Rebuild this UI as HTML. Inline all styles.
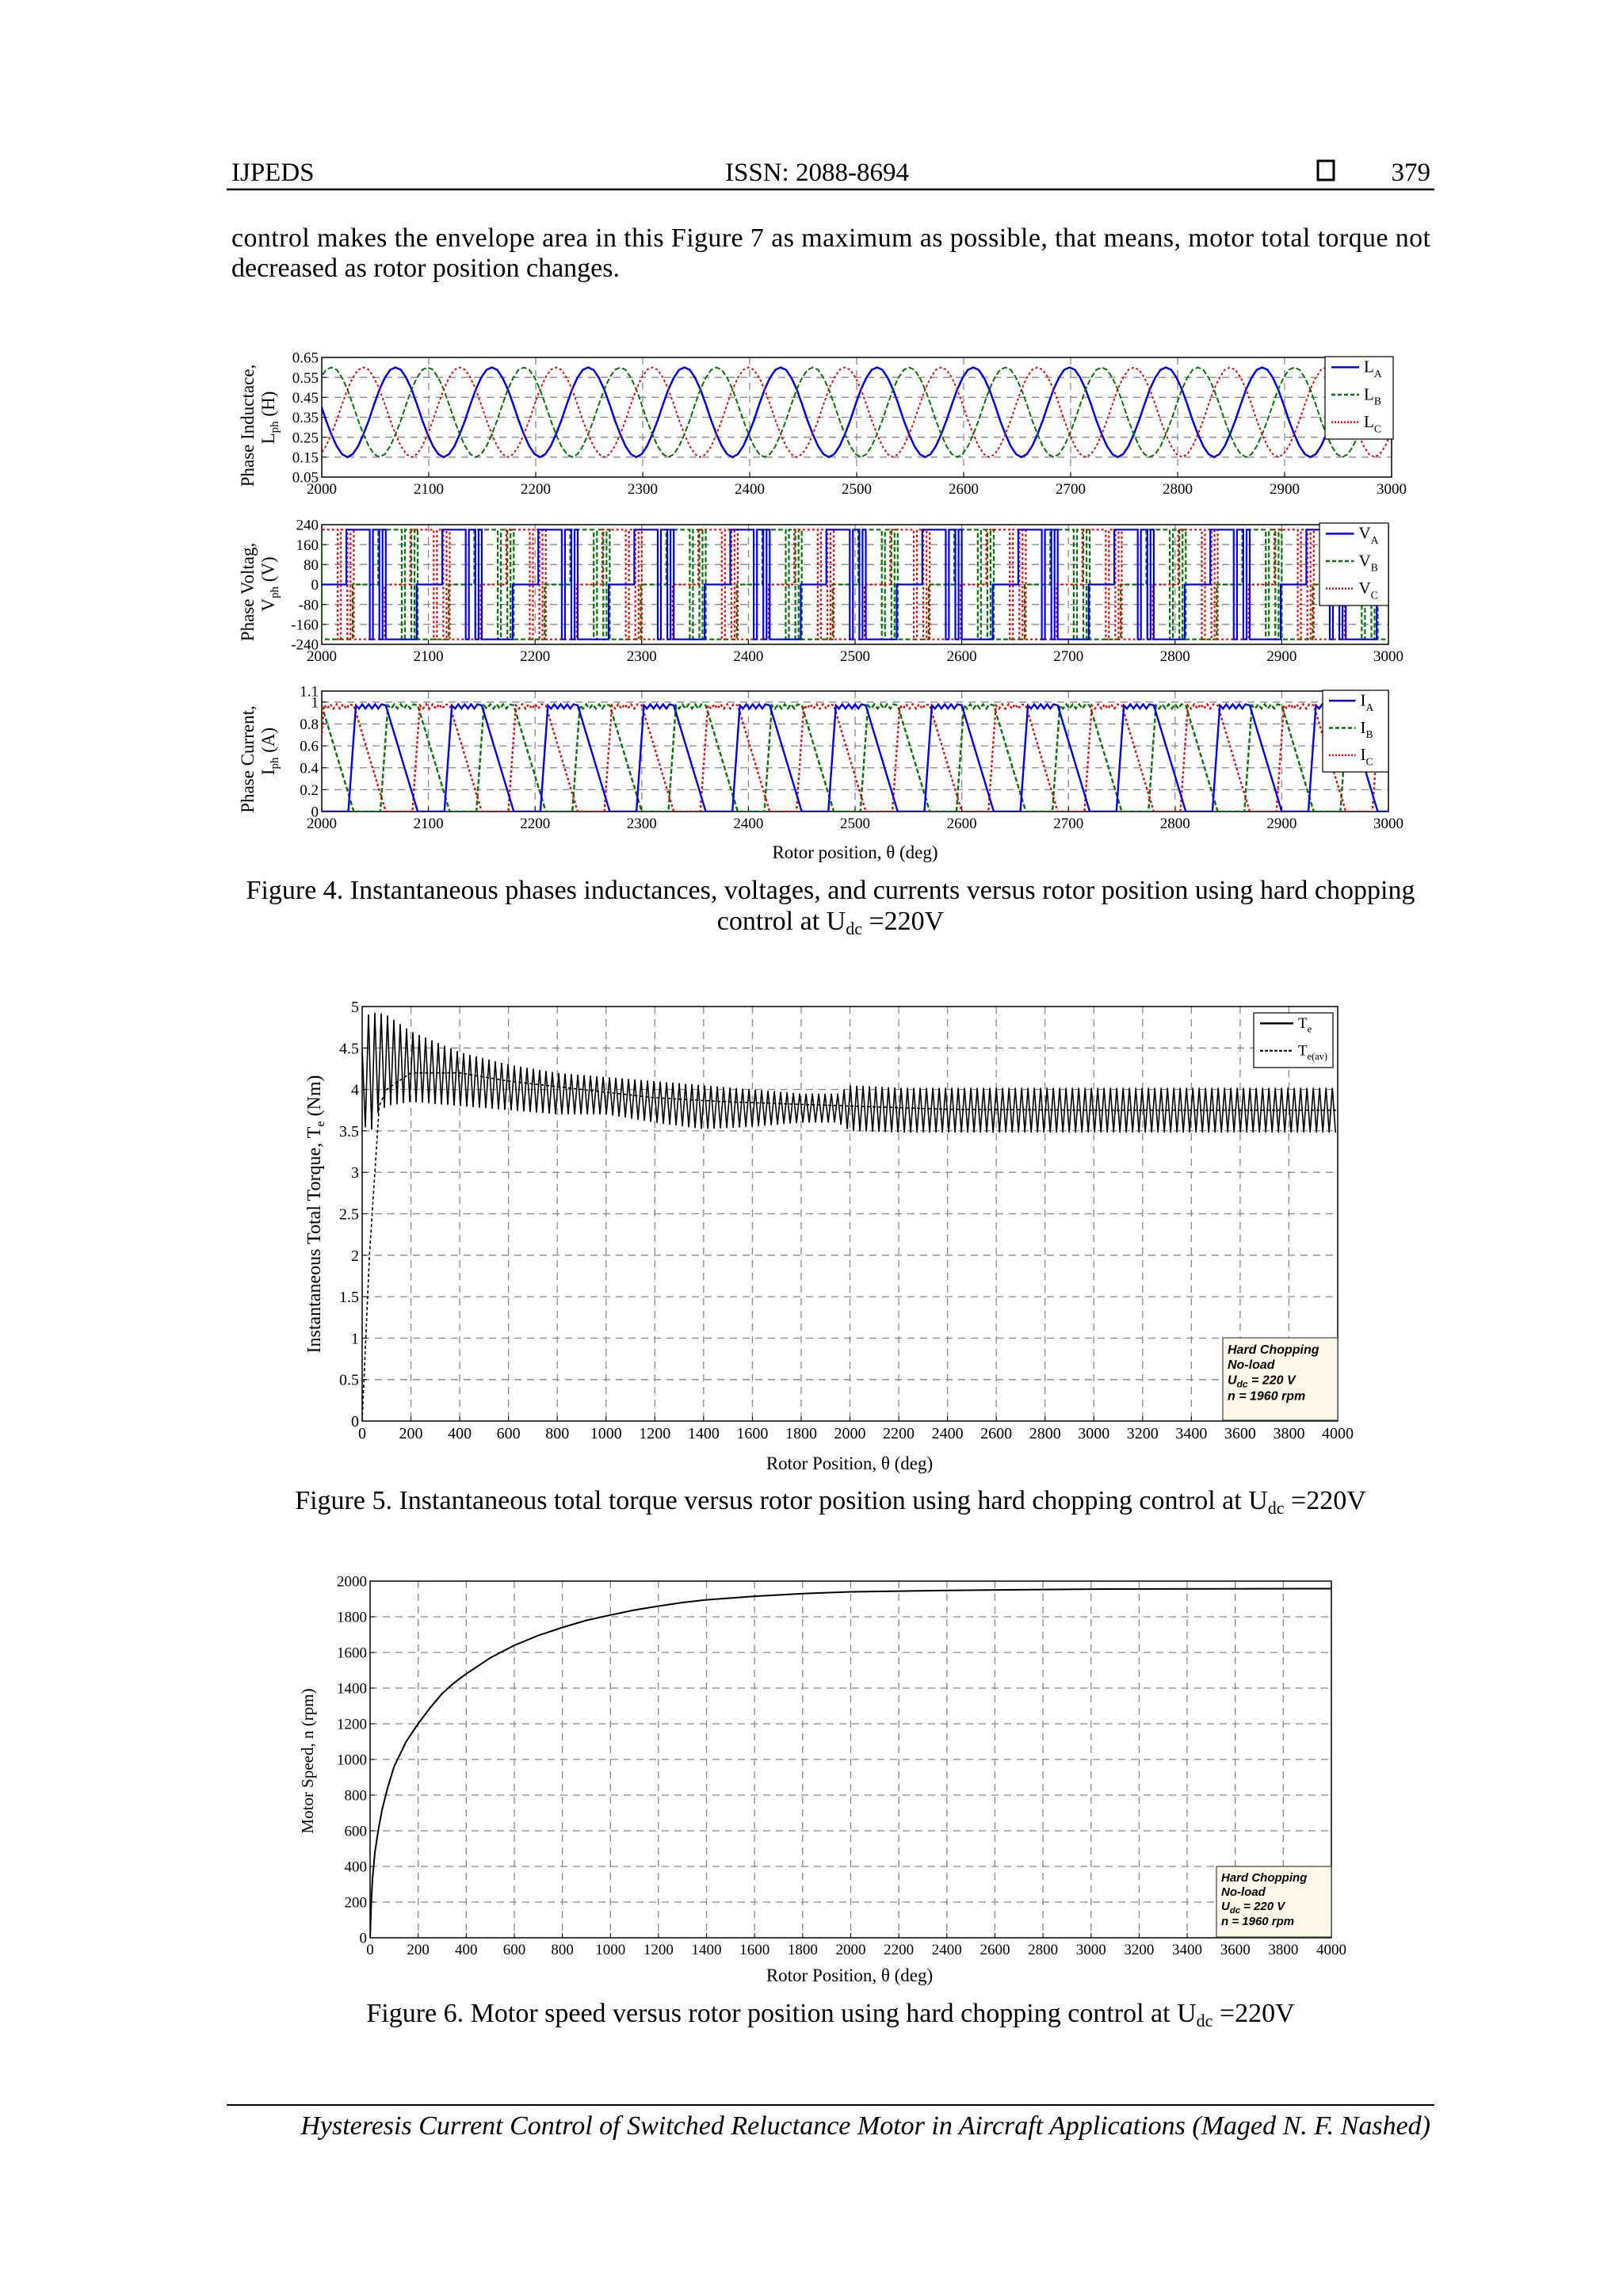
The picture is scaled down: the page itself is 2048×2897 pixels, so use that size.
<!DOCTYPE html>
<html><head><meta charset="utf-8">
<style>
html,body{margin:0;padding:0;background:#fff}
svg{display:block}
text{font-family:"Liberation Serif",serif}
</style></head>
<body>
<svg id="page" width="2048" height="2897" viewBox="0 0 2048 2897" xmlns="http://www.w3.org/2000/svg">
<rect x="0" y="0" width="2048" height="2897" fill="#fff"/>
<g font-size="33">
<text x="292" y="228">IJPEDS</text>
<text x="1031" y="228" text-anchor="middle">ISSN: 2088-8694</text>
<rect x="1663" y="203" width="20" height="24" fill="none" stroke="#000" stroke-width="3"/>
<text x="1805" y="228" text-anchor="end">379</text>
<line x1="286" y1="239" x2="1810" y2="239" stroke="#000" stroke-width="2.5"/>
</g>
<g font-size="34">
<text x="292" y="311" textLength="1513" lengthAdjust="spacing">control makes the envelope area in this Figure 7 as maximum as possible, that means, motor total torque not</text>
<text x="292" y="349">decreased as rotor position changes.</text>
</g>
<g id="charts"></g>
<g font-size="34" text-anchor="middle">
<text x="1048" y="1134">Figure 4. Instantaneous phases inductances, voltages, and currents versus rotor position using hard chopping</text>
<text x="1048" y="1173">control at U<tspan font-size="22" dy="6">dc</tspan><tspan dy="-6"> =220V</tspan></text>
</g>
<g font-size="34" text-anchor="middle">
<text x="1048" y="1904">Figure 5. Instantaneous total torque versus rotor position using hard chopping control at U<tspan font-size="22" dy="6">dc</tspan><tspan dy="-6"> =220V</tspan></text>
</g>
<g font-size="34" text-anchor="middle">
<text x="1048" y="2551">Figure 6. Motor speed versus rotor position using hard chopping control at U<tspan font-size="22" dy="6">dc</tspan><tspan dy="-6"> =220V</tspan></text>
</g>
<g>
<line x1="286" y1="2656" x2="1810" y2="2656" stroke="#000" stroke-width="2"/>
<text x="1805" y="2693" text-anchor="end" font-size="34" font-style="italic">Hysteresis Current Control of Switched Reluctance Motor in Aircraft Applications (Maged N. F. Nashed)</text>
</g>
</svg>
<script>
// ---------- data ----------
// Inductance: one-period shape, offset from peak (deg) and value (H)
const indOffsets = [-45,-40,-35,-30,-25,-20,-15,-10,-5,0,5,10,15,20,25,30,35,40,45];
const indValues  = [0.15,0.165,0.205,0.265,0.335,0.415,0.49,0.548,0.588,0.60,0.588,0.548,0.49,0.415,0.335,0.265,0.205,0.165,0.15];
const indPeakA = 2069, indPeakB = 2009, indPeakC = 2039;
const period = 90;
// Voltage: one-period events (offset from conduction start, value V)
const voltOffsets = [0,22,25,31,34,37,66];
const voltValues  = [220,-220,220,-220,220,-220,0];
const voltStartA = 2023, voltStartB = 2053, voltStartC = 1993;
// Current: one-period shape (offset from rise start, value A)
const curOffsets = [0,7,10,13,16,19,22,25,28,31,35,65,90];
const curValues  = [0,0.97,0.94,0.98,0.94,0.98,0.94,0.98,0.94,0.98,0.97,0,0];
const curStartA = 2025, curStartB = 2055, curStartC = 1995;
// Torque envelope
const torqPos = [0,20,60,100,200,400,600,800,1000,1200,1400,1600,1800,1950,2000,2200,2600,3000,3500,4000];
const torqMax = [4.5,4.9,4.93,4.9,4.7,4.45,4.3,4.2,4.15,4.1,4.05,4.0,3.95,3.95,4.05,4.02,4.02,4.02,4.02,4.02];
const torqMin = [3.9,3.35,3.7,3.8,3.85,3.8,3.75,3.7,3.7,3.6,3.52,3.55,3.6,3.6,3.5,3.48,3.48,3.48,3.48,3.48];
const torqAvgPos = [0,30,70,100,200,400,600,900,1200,1500,1800,2000,2400,3000,4000];
const torqAvg    = [0,2.0,3.8,4.0,4.2,4.2,4.1,4.0,3.9,3.85,3.82,3.8,3.76,3.75,3.75];
// Speed
const speedPos = [0,5,10,20,35,50,75,100,150,200,250,300,350,400,500,600,700,800,900,1000,1100,1200,1300,1400,1600,1800,2000,2400,3000,4000];
const speedVal = [0,200,330,480,610,720,850,960,1100,1200,1290,1370,1430,1480,1570,1640,1695,1740,1780,1810,1838,1860,1880,1895,1915,1930,1940,1948,1955,1958];

const NS = "http://www.w3.org/2000/svg";
const root = document.getElementById('charts');
function el(tag, attrs, parent){const e=document.createElementNS(NS,tag);for(const k in attrs)e.setAttribute(k,attrs[k]);(parent||root).appendChild(e);return e;}

function makeAxes(cfg){
  const g = el('g',{});
  
  
  const sx = v => cfg.x0 + (v-cfg.xmin)/(cfg.xmax-cfg.xmin)*(cfg.x1-cfg.x0);
  const sy = v => cfg.y1 - (v-cfg.ymin)/(cfg.ymax-cfg.ymin)*(cfg.y1-cfg.y0);
  const cid = cfg.name+'-clip';
  const defs = el('defs',{},g);
  const cp = el('clipPath',{id:cid},defs);
  el('rect',{x:cfg.x0,y:cfg.y0,width:cfg.x1-cfg.x0,height:cfg.y1-cfg.y0},cp);
  const grid = el('g',{stroke:'#888','stroke-width':1.3,'stroke-dasharray':'9,7'},g);
  
  
  cfg.xticks.forEach(v=>{ if(v>cfg.xmin&&v<cfg.xmax) el('line',{x1:sx(v),x2:sx(v),y1:cfg.y0,y2:cfg.y1},grid);});
  cfg.yticks.forEach(v=>{ if(v>cfg.ymin&&v<cfg.ymax) el('line',{x1:cfg.x0,x2:cfg.x1,y1:sy(v),y2:sy(v)},grid);});
  el('rect',{x:cfg.x0,y:cfg.y0,width:cfg.x1-cfg.x0,height:cfg.y1-cfg.y0,fill:'none',stroke:'#000','stroke-width':1.5},g);
  const xt = el('g',{'font-size':cfg.fs,'text-anchor':'middle'},g);
  
  
  cfg.xticks.forEach(v=>{ el('line',{x1:sx(v),x2:sx(v),y1:cfg.y1,y2:cfg.y1-6,stroke:'#000'},g); const t=el('text',{x:sx(v),y:cfg.y1+cfg.fs+2},xt); t.textContent=v;});
  const yt = el('g',{'font-size':cfg.fs,'text-anchor':'end'},g);
  
  
  cfg.yticks.forEach(v=>{ el('line',{x1:cfg.x0,x2:cfg.x0+6,y1:sy(v),y2:sy(v),stroke:'#000'},g); const t=el('text',{x:cfg.x0-4,y:sy(v)+cfg.fs*0.35},yt); t.textContent=(cfg.yfmt?cfg.yfmt(v):v);});
  const plot = el('g',{'clip-path':'url(#'+cid+')',fill:'none'},g);
  return {g,sx,sy,plot};
}

function periodicPath(ax, offs, vals, start, step){
  let d='';
  for(let k=-3;k<14;k++){
    const base = start + k*period;
    offs.forEach((o,i)=>{
      const x=ax.sx(base+o);
      if(step){
        const prev = i===0 ? vals[vals.length-1] : vals[i-1];
        d += (d?'L':'M')+x.toFixed(1)+','+ax.sy(prev).toFixed(1)+'L'+x.toFixed(1)+','+ax.sy(vals[i]).toFixed(1);
      } else d += (d?'L':'M')+x.toFixed(1)+','+ax.sy(vals[i]).toFixed(1);
    });
  }
  return d;
}

function legend(g, x, y, w, h, items, fs){
  const lg = el('g',{},g);
  
  
  el('rect',{x:x,y:y,width:w,height:h,fill:'#fff',stroke:'#000','stroke-width':1.2},lg);
  items.forEach((it,i)=>{
    const yy = y + h*(i+0.5)/items.length - 4;
    const ln = el('line',{x1:x+8,x2:x+w*0.5,y1:yy,y2:yy,stroke:it.c,'stroke-width':it.w||2.5,'stroke-dasharray':it.dash||'none'},lg);
    
    
    const t = el('text',{x:x+w*0.5+6,y:yy+fs*0.3,'font-size':fs},lg);
    
    
    t.innerHTML = it.label+'<tspan font-size="'+(fs*0.65)+'" dy="'+(fs*0.3)+'">'+it.sub+'</tspan>';
  });
}

function ylabel(g, x, y, lines, fs){
  const t = el('text',{transform:'translate('+x+','+y+') rotate(-90)','text-anchor':'middle','font-size':fs},g);
  
  
  t.innerHTML = lines;
}

const blue='#0000ee', green='#007700', red='#ee0000';
const xt4 = [2000,2100,2200,2300,2400,2500,2600,2700,2800,2900,3000];

// ---- Plot 1: inductance
const a1 = makeAxes({name:'inductance-chart',x0:406,x1:1756,y0:451,y1:602,xmin:2000,xmax:3000,ymin:0.05,ymax:0.65,xticks:xt4,yticks:[0.05,0.15,0.25,0.35,0.45,0.55,0.65],fs:19,yfmt:v=>v.toFixed(2)});
[[indPeakA,blue,'none','LA'],[indPeakB,green,'7,3','LB'],[indPeakC,red,'3,3','LC']].forEach(s=>{
  const p = el('path',{d:periodicPath(a1,indOffsets,indValues,s[0],false),stroke:s[1],'stroke-width':s[1]===blue?2.5:2,'stroke-dasharray':s[2]},a1.plot);
  
  
});
legend(a1.g,1672,450,86,104,[{id:'la',c:blue,label:'L',sub:'A'},{id:'lb',c:green,dash:'5,3',label:'L',sub:'B'},{id:'lc',c:red,dash:'2,2',label:'L',sub:'C'}],21);
ylabel(a1.g,330,527,'<tspan x="-10" dy="-10">Phase Inductace,</tspan><tspan x="0" dy="26">L<tspan font-size="15" dy="5">ph</tspan><tspan dy="-5"> (H)</tspan></tspan>',23);

// ---- Plot 2: voltage
const a2 = makeAxes({name:'voltage-chart',x0:406,x1:1752,y0:662,y1:813,xmin:2000,xmax:3000,ymin:-240,ymax:240,xticks:xt4,yticks:[-240,-160,-80,0,80,160,240],fs:19});
[[voltStartB,green,'6,3','VB'],[voltStartC,red,'3,3','VC'],[voltStartA,blue,'none','VA']].forEach(s=>{
  const p = el('path',{d:periodicPath(a2,voltOffsets,voltValues,s[0],true),stroke:s[1],'stroke-width':2.2,'stroke-dasharray':s[2]},a2.plot);
  
  
});
legend(a2.g,1665,660,87,104,[{id:'va',c:blue,label:'V',sub:'A'},{id:'vb',c:green,dash:'5,3',label:'V',sub:'B'},{id:'vc',c:red,dash:'2,2',label:'V',sub:'C'}],21);
ylabel(a2.g,330,737,'<tspan x="-10" dy="-10">Phase Voltag,</tspan><tspan x="0" dy="26">V<tspan font-size="15" dy="5">ph</tspan><tspan dy="-5"> (V)</tspan></tspan>',23);

// ---- Plot 3: current
const a3 = makeAxes({name:'current-chart',x0:406,x1:1752,y0:872,y1:1024,xmin:2000,xmax:3000,ymin:0,ymax:1.1,xticks:xt4,yticks:[0,0.2,0.4,0.6,0.8,1,1.1],fs:19});
[[curStartB,green,'6,3','IB'],[curStartC,red,'3,3','IC'],[curStartA,blue,'none','IA']].forEach(s=>{
  const p = el('path',{d:periodicPath(a3,curOffsets,curValues,s[0],false),stroke:s[1],'stroke-width':2.4,'stroke-dasharray':s[2]},a3.plot);
  
  
});
legend(a3.g,1669,871,83,103,[{id:'ia',c:blue,label:'I',sub:'A'},{id:'ib',c:green,dash:'5,3',label:'I',sub:'B'},{id:'ic',c:red,dash:'2,2',label:'I',sub:'C'}],21);
ylabel(a3.g,330,948,'<tspan x="-10" dy="-10">Phase Current,</tspan><tspan x="0" dy="26">I<tspan font-size="15" dy="5">ph</tspan><tspan dy="-5"> (A)</tspan></tspan>',23);
const xl1 = el('text',{x:1079,y:1083,'text-anchor':'middle','font-size':23});


xl1.textContent = 'Rotor position, θ (deg)';

// ---- Plot 4: torque
function interp(xs, ys, x){ for(let i=1;i<xs.length;i++){ if(x<=xs[i]){const t=(x-xs[i-1])/(xs[i]-xs[i-1]);return ys[i-1]+t*(ys[i]-ys[i-1]);} } return ys[ys.length-1]; }
const xt5=[]; for(let v=0;v<=4000;v+=200) xt5.push(v);
const a4 = makeAxes({name:'torque-chart',x0:457,x1:1688,y0:1270,y1:1793,xmin:0,xmax:4000,ymin:0,ymax:5,xticks:xt5,yticks:[0,0.5,1,1.5,2,2.5,3,3.5,4,4.5,5],fs:20});
let dT='';
for(let th=0, i=0; th<=4000; th+=13, i++){
  const v = (i%2===0)? interp(torqPos,torqMax,th) : interp(torqPos,torqMin,th);
  dT += (dT?'L':'M')+a4.sx(th).toFixed(1)+','+a4.sy(v).toFixed(1);
}
const pT = el('path',{d:dT,stroke:'#000','stroke-width':1.6},a4.plot);


const pA = el('path',{d:torqAvgPos.map((p,i)=>(i?'L':'M')+a4.sx(p).toFixed(1)+','+a4.sy(torqAvg[i]).toFixed(1)).join(''),stroke:'#000','stroke-width':1.6,'stroke-dasharray':'4,3'},a4.plot);


legend(a4.g,1582,1278,100,69,[{id:'te',c:'#000',w:2.5,label:'T',sub:'e'},{id:'teav',c:'#000',w:2,dash:'4,2',label:'T',sub:'e(av)'}],19);
ylabel(a4.g,404,1532,'Instantaneous Total Torque, T<tspan font-size="16" dy="5">e</tspan><tspan dy="-5"> (Nm)</tspan>',24);
const xl2 = el('text',{x:1072,y:1854,'text-anchor':'middle','font-size':23});


xl2.textContent = 'Rotor Position, θ (deg)';

function annot(g,x,y,w,h,fs){
  const b = el('g',{},g);
  
  
  el('rect',{x:x,y:y,width:w,height:h,fill:'#fdf8ea',stroke:'#444','stroke-width':1.2},b);
  const t = el('text',{x:x+6,y:y+fs+4,'font-size':fs,'font-style':'italic','font-weight':'bold',style:'font-family:"Liberation Sans",sans-serif'},b);
  t.innerHTML = '<tspan x="'+(x+6)+'">Hard Chopping</tspan><tspan x="'+(x+6)+'" dy="'+(fs*1.2)+'">No-load</tspan><tspan x="'+(x+6)+'" dy="'+(fs*1.2)+'">U<tspan font-size="'+(fs*0.75)+'" dy="4">dc</tspan><tspan dy="-4"> = 220 V</tspan></tspan><tspan x="'+(x+6)+'" dy="'+(fs*1.25)+'">n = 1960 rpm</tspan>';
}
annot(a4.g,1543,1688,145,104,16);

// ---- Plot 5: speed
const a5 = makeAxes({name:'speed-chart',x0:467,x1:1680,y0:1995,y1:2445,xmin:0,xmax:4000,ymin:0,ymax:2000,xticks:xt5,yticks:[0,200,400,600,800,1000,1200,1400,1600,1800,2000],fs:19});
const pS = el('path',{d:speedPos.map((p,i)=>(i?'L':'M')+a5.sx(p).toFixed(1)+','+a5.sy(speedVal[i]).toFixed(1)).join(''),stroke:'#000','stroke-width':2},a5.plot);


annot(a5.g,1535,2355,145,89,15);
ylabel(a5.g,395,2222,'Motor Speed, n (rpm)',21);
const xl3 = el('text',{x:1072,y:2500,'text-anchor':'middle','font-size':23});


xl3.textContent = 'Rotor Position, θ (deg)';
</script>
</body></html>
